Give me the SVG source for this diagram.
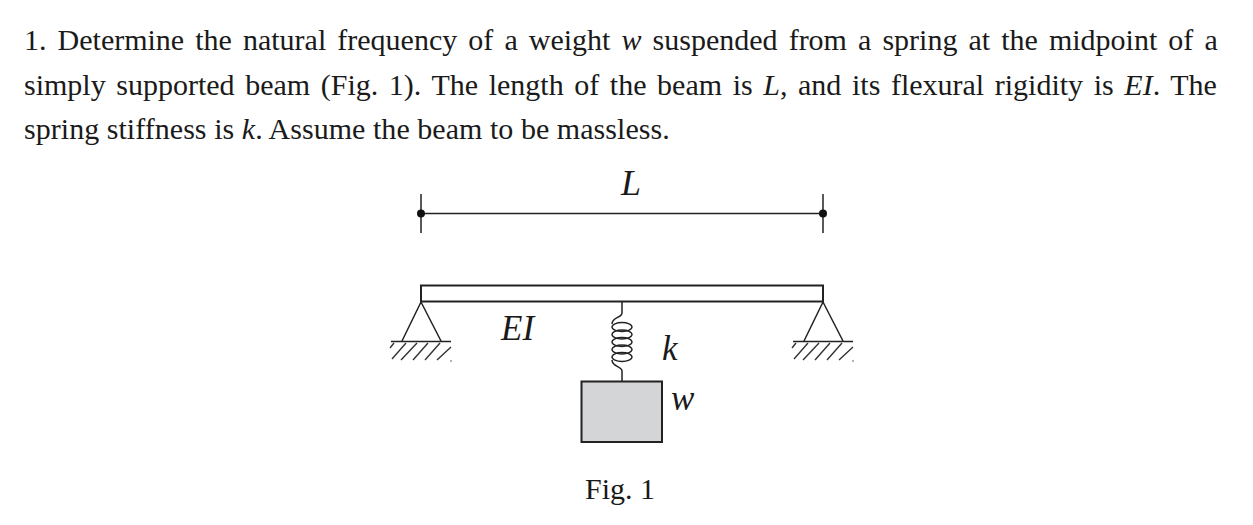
<svg xmlns="http://www.w3.org/2000/svg" width="1253" height="525" viewBox="0 0 1253 525">
<style>
text{font-family:"Liberation Serif","Times New Roman",serif;fill:#1a1a1a}
.p{font-size:30px}
.i{font-style:italic}
.l{fill:none;stroke:#222;stroke-width:1.5}
.h{fill:none;stroke:#333;stroke-width:1.4}
.c{fill:none;stroke:#222;stroke-width:1.4}
</style>
<defs>
<g id="support">
<path class="l" d="M0 302L-19 341M0 302L20 341M-30 341.500H30"/>
<path class="h" d="M-31 348L-27 343M-29 359L-15 343M-20 360L-4 343M-8 360L7 343M4 360L19 343M16 360L30 347M29.500 361H30.500"/>
</g>
</defs>
<rect width="1253" height="525" fill="#fff"/>
<text class="p" x="24" y="50" word-spacing="3.570">1. Determine the natural frequency of a weight <tspan class="i">w</tspan> suspended from a spring at the midpoint of a</text>
<text class="p" x="24" y="95" word-spacing="3.100">simply supported beam (Fig. 1). The length of the beam is <tspan class="i">L</tspan>, and its flexural rigidity is <tspan class="i">EI</tspan>. The</text>
<text class="p" x="24" y="139" letter-spacing="0.040">spring stiffness is <tspan class="i">k</tspan>. Assume the beam to be massless.</text>
<g id="connectors">
<path class="l" d="M421 213.500H823"/>
<path class="l" d="M622 302V313C622 318 612 317 612 324M612 360C612 367 622 366 622 371V381"/>
</g>
<g id="dimension-left"><path class="l" d="M421 194V233"/><circle cx="421" cy="213.500" r="4" fill="#111"/></g>
<g id="dimension-right"><path class="l" d="M823 194V233"/><circle cx="823" cy="213.500" r="4" fill="#111"/></g>
<text class="i" x="621" y="195" font-size="36">L</text>
<g id="beam"><rect x="421" y="285.500" width="402" height="16" fill="#fff" stroke="#222" stroke-width="2"/></g>
<g id="spring">
<ellipse class="c" cx="622" cy="327" rx="10" ry="4.500"/>
<ellipse class="c" cx="622" cy="334.500" rx="10" ry="4.500"/>
<ellipse class="c" cx="622" cy="342" rx="10" ry="4.500"/>
<ellipse class="c" cx="622" cy="349.500" rx="10" ry="4.500"/>
<ellipse class="c" cx="622" cy="357" rx="10" ry="4.500"/>
</g>
<g id="support-left"><use href="#support" x="421"/></g>
<g id="support-right"><use href="#support" x="823"/></g>
<text class="i" x="501" y="340" font-size="35">EI</text>
<text class="i" x="662" y="360" font-size="35">k</text>
<g id="weight"><rect x="581.500" y="381.500" width="80.500" height="60.500" fill="#d4d5d7" stroke="#222" stroke-width="2"/></g>
<text class="i" x="671" y="410" font-size="35">w</text>
<text x="585" y="499" font-size="30">Fig. 1</text>
</svg>
